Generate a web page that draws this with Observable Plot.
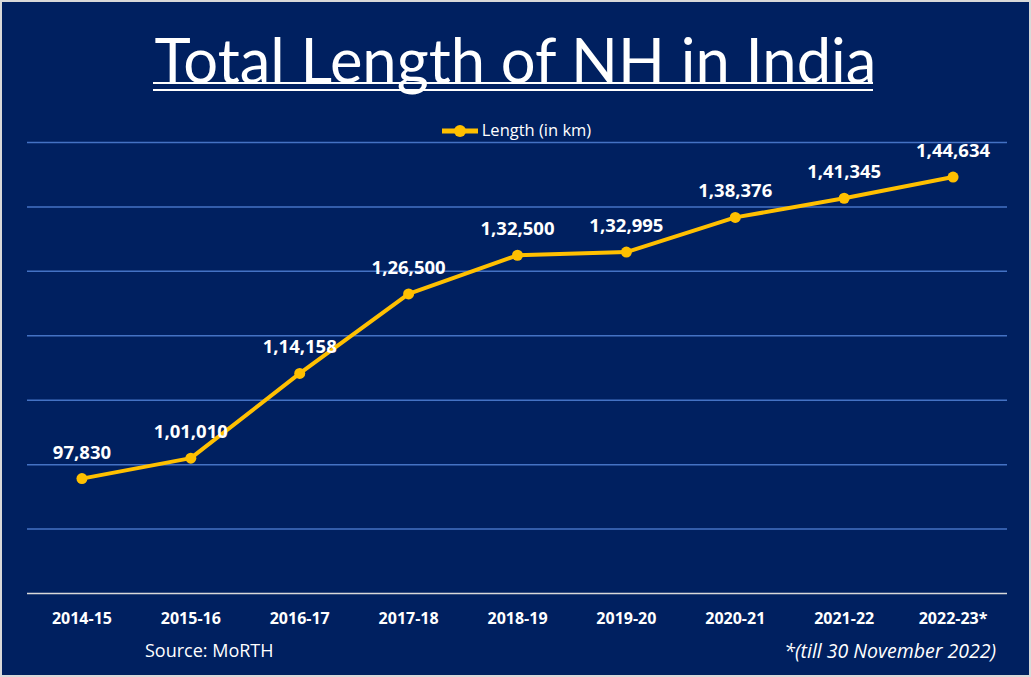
<!DOCTYPE html>
<html>
<head>
<meta charset="utf-8">
<script src="https://cdn.jsdelivr.net/npm/d3@7"></script>
<script src="https://cdn.jsdelivr.net/npm/@observablehq/plot@0.6"></script>
<style>
  html, body { margin: 0; padding: 0; }
  body { width: 1031px; height: 677px; overflow: hidden; background: #d9d9d9; position: relative; }
  #frame { position: absolute; left: 2px; top: 2px; width: 1027px; height: 673px; background: #002060; }
  #title { position: absolute; left: 0; width: 1031px; top: 21px; text-align: center; color: #fff;
           font-family: "Lato", sans-serif; font-weight: 400; font-size: 61.5px; line-height: 76px; white-space: nowrap; }
  .uline { position: absolute; left: 153px; width: 720px; height: 2px; background: #fff; }
  #legend { position: absolute; top: 119px; left: 0; width: 1031px; text-align: center; color: #fff;
            font-family: "Open Sans", sans-serif; font-size: 16.5px; line-height: 22px; }
  #legend svg { vertical-align: -2px; margin-right: 2px; }
  #chart { position: absolute; left: 0; top: 100px; }
  #source { position: absolute; left: 145px; top: 638px; color: #fff; font-family: "Open Sans", sans-serif; font-size: 18px; }
  #note { position: absolute; right: 35px; top: 637px; color: #fff; font-family: "Open Sans", sans-serif; font-style: italic; font-size: 19.5px; }
</style>
</head>
<body>
<div id="frame"></div>
<div id="title">Total Length of NH in India</div>
<div class="uline" style="top:82px"></div>
<div class="uline" style="top:89px"></div>
<div id="legend"><svg width="40" height="14"><line x1="2" x2="38" y1="7" y2="7" stroke="#FFC000" stroke-width="5"/><circle cx="20" cy="7" r="6" fill="#FFC000"/></svg>Length (in km)</div>
<div id="chart"></div>
<div id="source">Source: MoRTH</div>
<div id="note">*(till 30 November 2022)</div>
<script>
const years = ["2014-15","2015-16","2016-17","2017-18","2018-19","2019-20","2020-21","2021-22","2022-23*"];
const lengths = [97830, 101010, 114158, 126500, 132500, 132995, 138376, 141345, 144634];
const labels = ["97,830","1,01,010","1,14,158","1,26,500","1,32,500","1,32,995","1,38,376","1,41,345","1,44,634"];
const gridValues = [90000, 100000, 110000, 120000, 130000, 140000, 150000];

const data = years.map((y, i) => ({year: y, value: lengths[i], label: labels[i]}));

const chart = Plot.plot({
  width: 1031,
  height: 540,
  marginTop: 42,
  marginBottom: 47,
  marginLeft: 27,
  marginRight: 24,
  style: {background: "transparent", color: "#fff", fontFamily: "Open Sans, sans-serif"},
  x: {type: "point", domain: years, padding: 0.5, round: false, label: null},
  y: {domain: [80000, 150000], axis: null},
  marks: [
    Plot.ruleY(gridValues, {stroke: "#4472C4", strokeWidth: 1.5, strokeOpacity: 1}),
    Plot.ruleY([80000], {stroke: "#d9d9d9", strokeWidth: 1.5}),
    Plot.axisX({tickSize: 0, tickPadding: 19, fontSize: 16, fontWeight: "bold", fill: "#fff", label: null}),
    Plot.line(data, {x: "year", y: "value", stroke: "#FFC000", strokeWidth: 4}),
    Plot.dot(data, {x: "year", y: "value", r: 5.5, fill: "#FFC000", stroke: "none"}),
    Plot.text(data, {x: "year", y: "value", text: "label", dy: -26, fill: "#fff", fontSize: 18.5, fontWeight: "bold"})
  ]
});
document.getElementById("chart").appendChild(chart);
</script>
</body>
</html>
